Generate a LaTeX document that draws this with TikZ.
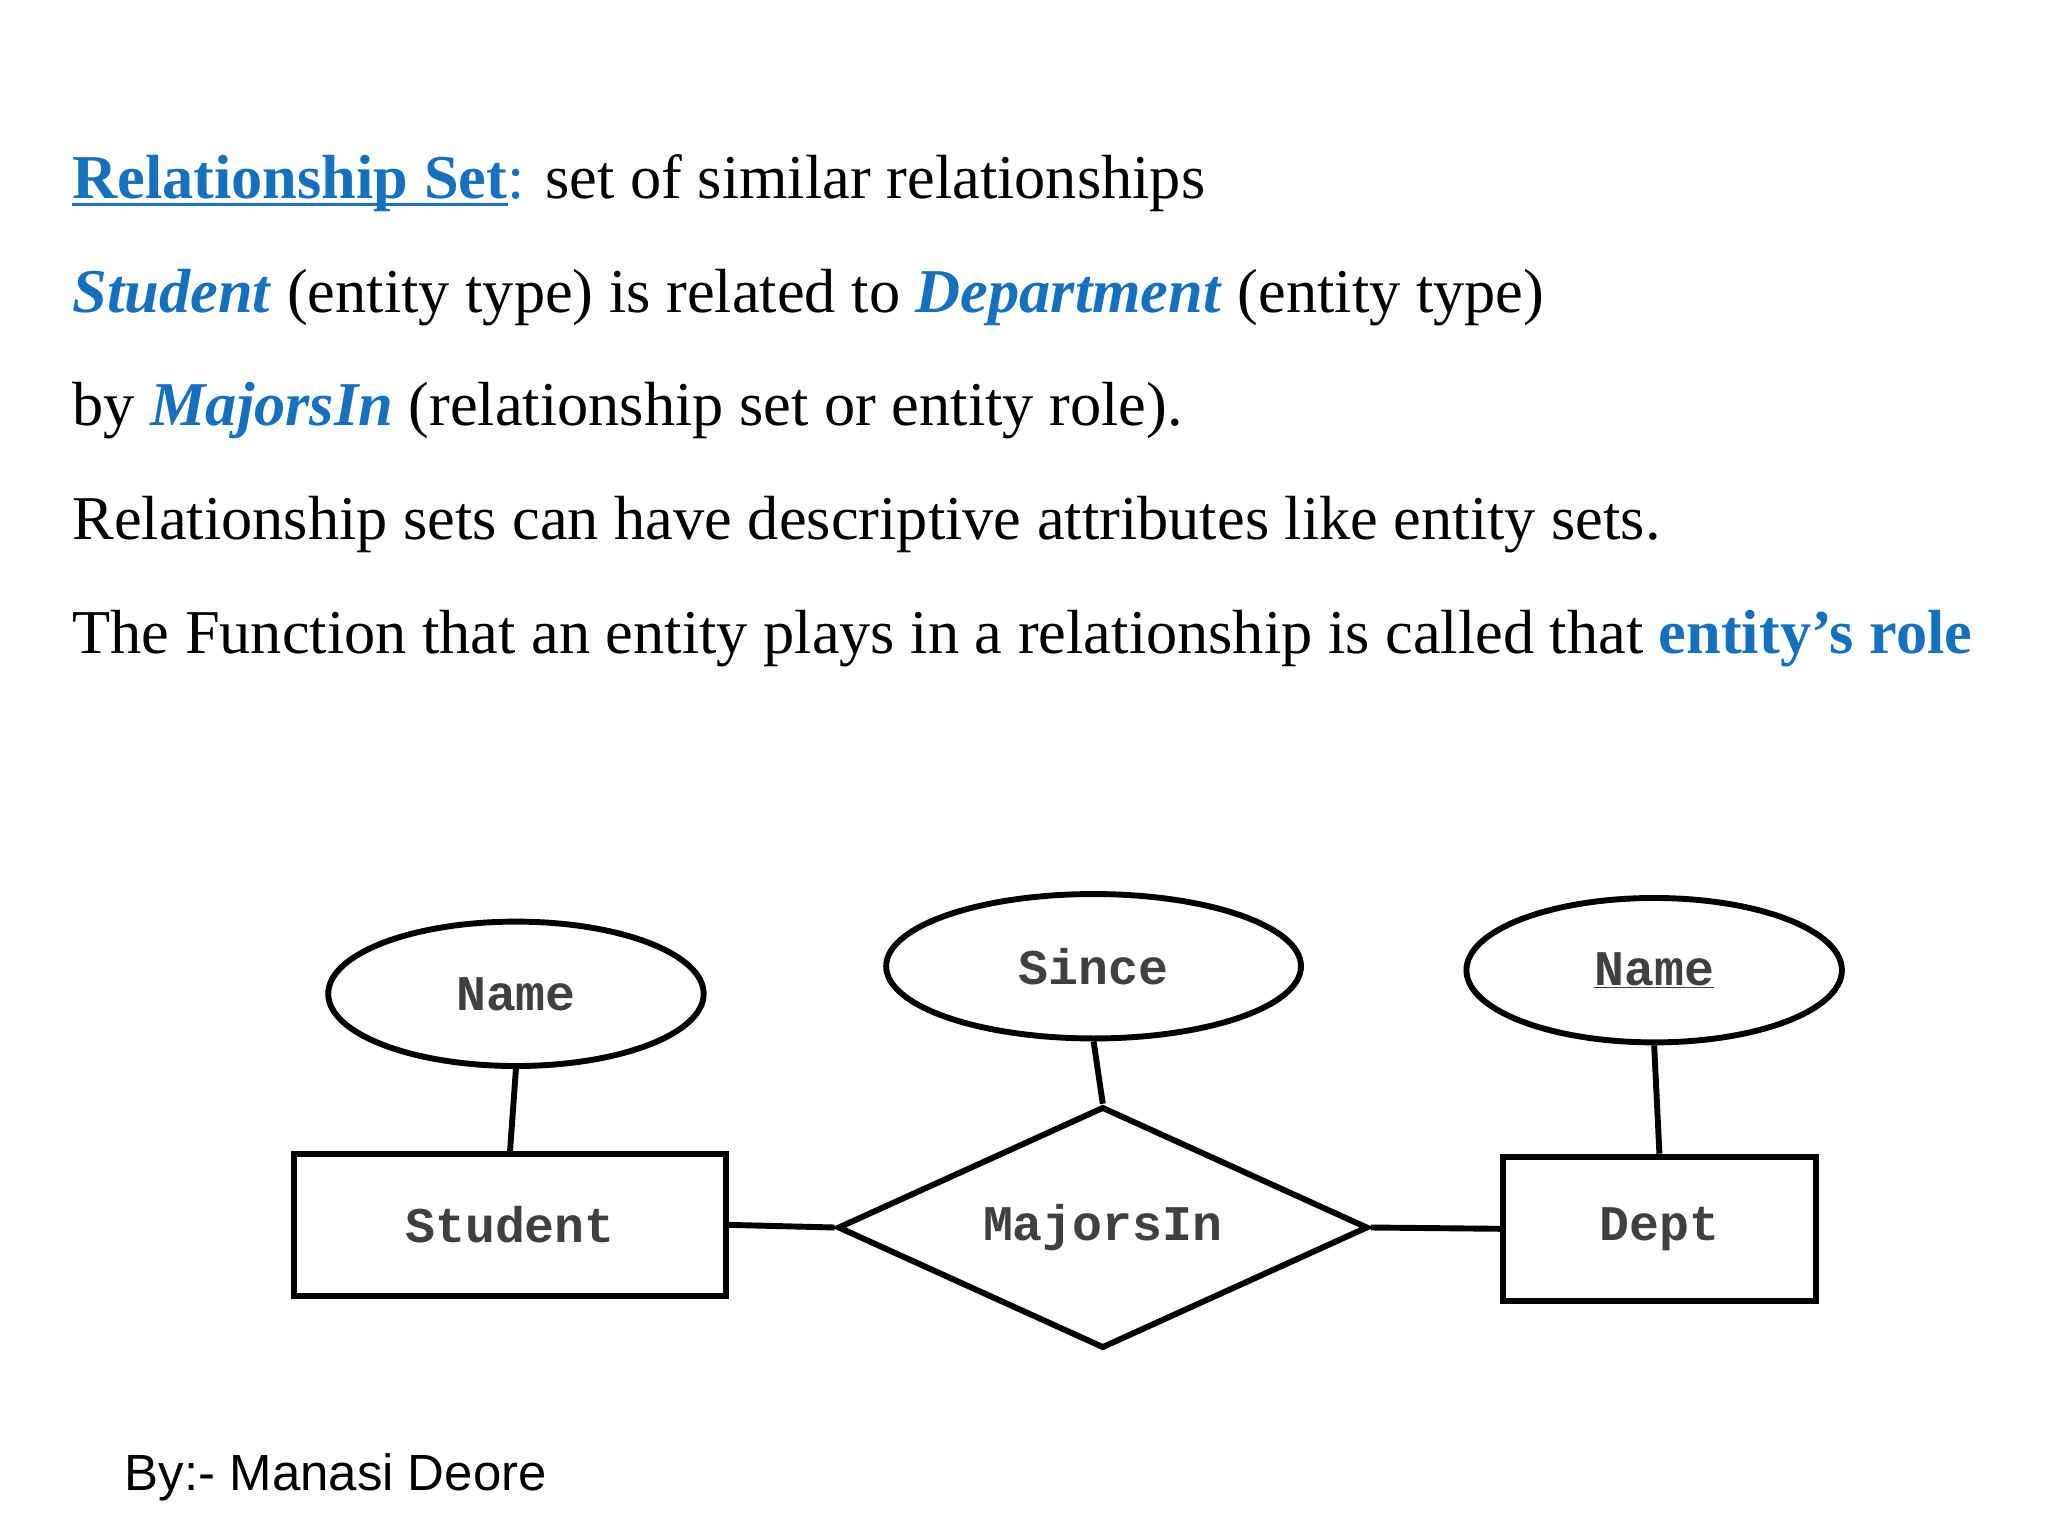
\documentclass[tikz,border=0pt]{standalone}
\usepackage{fontspec}
\setmainfont{Liberation Serif}
\newfontfamily\monof{Liberation Mono}
\newfontfamily\sansf{Liberation Sans}
\usetikzlibrary{shapes.geometric}
\definecolor{hblue}{RGB}{21,112,190}
\begin{document}
\begin{tikzpicture}[x=1pt,y=-1pt,
  txt/.style={anchor=base west,inner sep=0pt,font=\fontsize{47.5}{52}\selectfont},
  er/.style={draw,line width=4.5pt,inner sep=0pt,font=\monof\bfseries\fontsize{38}{40}\selectfont,text=black!75},
  con/.style={line width=4.5pt}]
\useasboundingbox (0,0) rectangle (1560,1170);
\node[txt] (l1) at (55,151) {\textcolor{hblue}{\textbf{Relationship Set}:} set of similar relationships};
\draw[hblue,line width=2.5pt] (55,156) -- (387,156);
\node[txt] (l2) at (55,238) {\textcolor{hblue}{\textbf{\textit{Student}}} (entity type) is related to \textcolor{hblue}{\textbf{\textit{Department}}} (entity type)};
\node[txt] (l3) at (55,324) {by \textcolor{hblue}{\textbf{\textit{MajorsIn}}} (relationship set or entity role).};
\node[txt] (l4) at (55,411) {Relationship sets can have descriptive attributes like entity sets.};
\node[txt] (l5) at (55,498) {The Function that an entity plays in a relationship is called that \textcolor{hblue}{\textbf{entity’s role}}};
\node[er,ellipse,minimum width=286,minimum height=110] (n1) at (393,757) {Name};
\node[er,rectangle,minimum width=329,minimum height=108] (st) at (388.5,933) {Student};
\node[er,ellipse,minimum width=316,minimum height=110] (si) at (833,736) {Since};
\node[er,diamond,aspect=2.2,minimum width=404,minimum height=184] (mj) at (840,935) {MajorsIn};
\node[er,ellipse,minimum width=286,minimum height=110] (n2) at (1260,739) {\underline{Name}};
\node[er,rectangle,minimum width=238,minimum height=110] (dp) at (1264,936) {Dept};
\draw[con] (n1.south) -- (st.north);
\draw[con] (si.south) -- (mj.north);
\draw[con] (n2.south) -- (dp.north);
\draw[con] (st.east) -- (mj.west);
\draw[con] (mj.east) -- (dp.west);
\node[anchor=base west,inner sep=0pt,font=\sansf\fontsize{38.8}{42}\selectfont] (by) at (95,1135) {By:- Manasi Deore};
\end{tikzpicture}
\end{document}
